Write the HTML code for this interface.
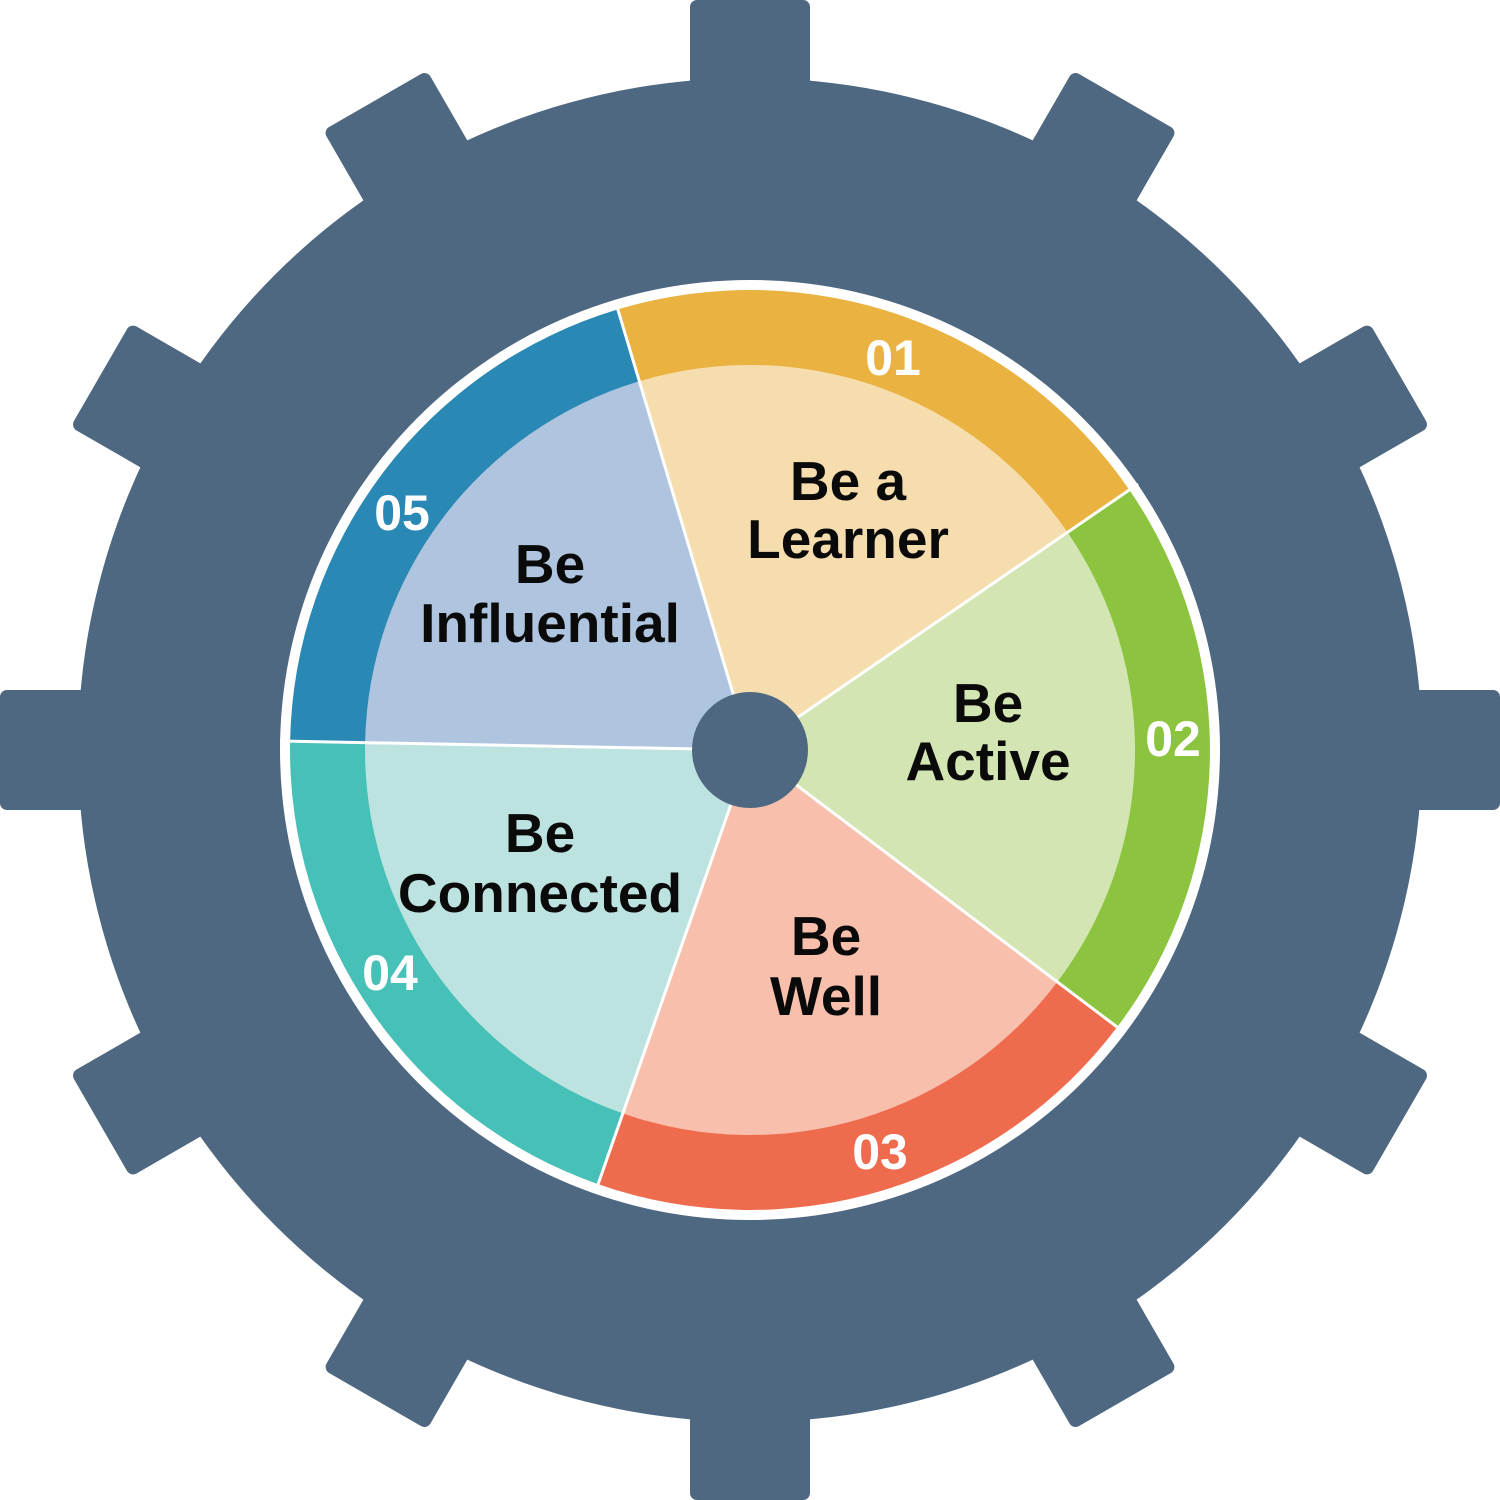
<!DOCTYPE html>
<html><head><meta charset="utf-8"><style>
html,body{margin:0;padding:0;background:#fff;}
svg{display:block;}
.t{font-family:"Liberation Sans",sans-serif;font-weight:bold;font-size:55px;fill:#0a0a0a;text-anchor:middle;}
.n{font-family:"Liberation Sans",sans-serif;font-weight:bold;font-size:50px;fill:#fff;text-anchor:middle;}
</style></head><body>
<svg width="1500" height="1500" viewBox="0 0 1500 1500">
<g fill="#4F6882">
<circle cx="750" cy="750" r="672"/>
<g id="tooth"><rect x="690" y="0" width="120" height="760" rx="7"/></g>
<use href="#tooth" transform="rotate(30 750 750)"/>
<use href="#tooth" transform="rotate(60 750 750)"/>
<use href="#tooth" transform="rotate(90 750 750)"/>
<use href="#tooth" transform="rotate(120 750 750)"/>
<use href="#tooth" transform="rotate(150 750 750)"/>
<use href="#tooth" transform="rotate(180 750 750)"/>
<use href="#tooth" transform="rotate(210 750 750)"/>
<use href="#tooth" transform="rotate(240 750 750)"/>
<use href="#tooth" transform="rotate(270 750 750)"/>
<use href="#tooth" transform="rotate(300 750 750)"/>
<use href="#tooth" transform="rotate(330 750 750)"/>
</g>
<circle cx="750" cy="750" r="470" fill="#fff"/>
<!-- rings -->
<path d="M750 750 L617.8 309.4 A460 460 0 0 1 1129.5 490.1 Z" fill="#EAB240"/>
<path d="M750 750 L1129.5 490.1 A460 460 0 0 1 1117.4 1026.8 Z" fill="#8CC43F"/>
<path d="M750 750 L1117.4 1026.8 A460 460 0 0 1 598 1184.1 Z" fill="#EF6B4E"/>
<path d="M750 750 L598 1184.1 A460 460 0 0 1 290.1 741.2 Z" fill="#47C0B8"/>
<path d="M750 750 L290.1 741.2 A460 460 0 0 1 617.8 309.4 Z" fill="#2A88B5"/>
<!-- pastels -->
<path d="M750 750 L639.4 381.2 A385 385 0 0 1 1067.7 532.5 Z" fill="#F6DDAE"/>
<path d="M750 750 L1067.7 532.5 A385 385 0 0 1 1057.5 981.7 Z" fill="#D2E5B2"/>
<path d="M750 750 L1057.5 981.7 A385 385 0 0 1 622.8 1113.4 Z" fill="#F8C0AC"/>
<path d="M750 750 L622.8 1113.4 A385 385 0 0 1 365.1 742.6 Z" fill="#BCE3E0"/>
<path d="M750 750 L365.1 742.6 A385 385 0 0 1 639.4 381.2 Z" fill="#AFC5DF"/>
<g stroke="#fff" stroke-width="3">
<line x1="750" y1="750" x2="615" y2="300"/>
<line x1="750" y1="750" x2="1138" y2="484"/>
<line x1="750" y1="750" x2="1125" y2="1033"/>
<line x1="750" y1="750" x2="595" y2="1193"/>
<line x1="750" y1="750" x2="280" y2="741"/>
</g>
<circle cx="750" cy="750" r="58" fill="#4F6882"/>
<text class="t" x="848" y="500">Be a</text>
<text class="t" x="848" y="558">Learner</text>
<text class="t" x="988" y="722">Be</text>
<text class="t" x="988" y="780">Active</text>
<text class="t" x="826" y="955">Be</text>
<text class="t" x="826" y="1015">Well</text>
<text class="t" x="540" y="852">Be</text>
<text class="t" x="540" y="912">Connected</text>
<text class="t" x="550" y="583">Be</text>
<text class="t" x="550" y="642">Influential</text>
<text class="n" x="893" y="375">01</text>
<text class="n" x="1173" y="756">02</text>
<text class="n" x="880" y="1169">03</text>
<text class="n" x="390" y="990">04</text>
<text class="n" x="402" y="530">05</text>
</svg>
</body></html>
